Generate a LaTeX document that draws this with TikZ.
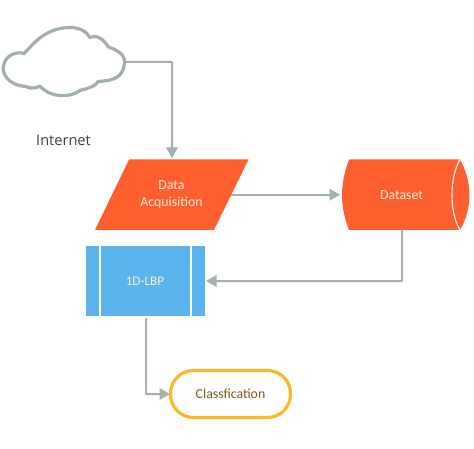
\documentclass[tikz,border=0pt]{standalone}
\usepackage{fontspec}
\setmainfont{Carlito}
\newfontfamily\inetfont{Open Sans}
\usetikzlibrary{arrows.meta,calc}
\definecolor{conn}{HTML}{A4B1AE}
\definecolor{cloudline}{HTML}{A3AFAB}
\definecolor{orangefill}{HTML}{FF5F2E}
\definecolor{bluefill}{HTML}{5CB4EC}
\definecolor{amber}{HTML}{FBB829}
\definecolor{browntext}{HTML}{7A5A20}
\tikzset{
  x=1pt,y=-1pt,
  link/.style={draw=conn,line width=2pt,-{Triangle[length=10.5pt,width=11.5pt]},rounded corners=0.5pt},
  lighttext/.style={text=white!85!orange,font=\fontsize{13.8}{16.5}\selectfont,align=center,inner sep=0pt},
  box/.style={minimum width=#1,inner sep=0pt,rectangle}
}
\begin{document}
\begin{tikzpicture}
\useasboundingbox (0,0) rectangle (474,449);
% cloud
\draw[draw=cloudline,line width=3.2pt,fill=white,line join=round]
 (24,53.5) .. controls (33,45) and (43,29) .. (68,27.5)
 .. controls (80,27) and (87,32) .. (90,37.5)
 .. controls (100,33) and (107,45) .. (108.5,47)
 .. controls (123,52) and (125,58) .. (124.5,63)
 .. controls (123,77) and (115,80.5) .. (98,81.5)
 .. controls (95,88) and (80,90) .. (80,90.5)
 .. controls (70,98) and (50,98) .. (40,86)
 .. controls (33,90) and (27,87) .. (26,86.5)
 .. controls (7,85) and (2,73) .. (3.5,66)
 .. controls (5,55) and (17,51) .. (24,53.5) -- cycle;
\node[inner sep=0pt,text=black!75,font=\inetfont\fontsize{14.6}{17}\selectfont] (inet) at (63.5,140) {Internet};
% parallelogram
\fill[orangefill] (129,159.5) -- (248.5,159.5) -- (214,230) -- (95,230) -- cycle;
\node[lighttext,box=119,minimum height=70.5] (acq) at (171.5,194.7) {Data\\Acquisition};
% drum
\fill[orangefill] (349,159.5) -- (460,159.5) .. controls (466,170) and (469.5,183) .. (469.5,195)
 .. controls (469.5,207) and (466,220) .. (460,230) -- (349,230)
 .. controls (345,220) and (342,207) .. (342,195) .. controls (342,183) and (345,170) .. (349,159.5) -- cycle;
\draw[white,line width=1.1pt] (460,159.5) .. controls (454,170) and (452,183) .. (452,195) .. controls (452,207) and (454,220) .. (460,230);
\node[lighttext,box=127,minimum height=70.5] (data) at (401.5,194.7) {Dataset};
% predefined process
\fill[bluefill] (86,246) rectangle (205,316);
\draw[white,line width=1.5pt] (100,246) -- (100,316) (191,246) -- (191,316);
\node[lighttext,box=119,minimum height=70,font=\fontsize{13.2}{16}\selectfont] (lbp) at (145,281) {1D-LBP};
% terminator
\node[draw=amber,line width=3.2pt,rounded corners=23pt,fill=white,minimum width=120,minimum height=47,inner sep=0pt,
      text=browntext,font=\fontsize{13.8}{15}\selectfont] (cls) at (230.5,394) {Classfication};
% connectors
\coordinate (cloudout) at (125,62);
\coordinate (acqtop) at (172,158);
\coordinate (dataout) at (402,230);
\coordinate (lbpin) at (206,281);
\coordinate (lbpout) at (146,318);
\coordinate (datain) at (340,194.7);
\coordinate (clsin) at (170,394);
\draw[link] (cloudout) -| (acqtop);
\draw[link] (acq.east) -- (datain);
\draw[link] (dataout) |- (lbpin);
\draw[link] (lbpout) |- (clsin);
\end{tikzpicture}
\end{document}
